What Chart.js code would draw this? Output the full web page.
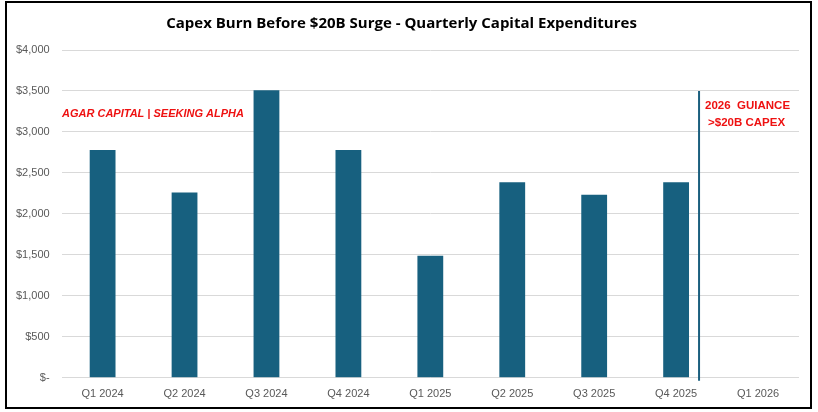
<!DOCTYPE html>
<html>
<head>
<meta charset="utf-8">
<script src="https://cdn.jsdelivr.net/npm/chart.js@4"></script>
<style>
  body { margin: 0; background: #fff; }
  #frame { position: absolute; left: 5px; top: 1px; width: 803px; height: 404px; border: 2px solid #000; }
  #wrap { position: absolute; left: 0; top: 0; width: 818px; height: 412px; }
</style>
</head>
<body>
<div id="frame"></div>
<div id="wrap"><canvas id="capexChart"></canvas></div>
<script>
// quarterly capex, $M
const quarters = ['Q1 2024', 'Q2 2024', 'Q3 2024', 'Q4 2024', 'Q1 2025', 'Q2 2025', 'Q3 2025', 'Q4 2025', 'Q1 2026'];
const capex = [2780, 2260, 3510, 2780, 1490, 2385, 2235, 2385, null];
const yTicks = [0, 500, 1000, 1500, 2000, 2500, 3000, 3500, 4000];

// guidance marker: sits just after Q4 2025, tops out at $3,500
const guidanceAt = 7.28;
const guidanceTop = 3500;

const fmtMoney = v => v === 0 ? '$-' : '$' + v.toLocaleString('en-US');

const overlay = {
  id: 'overlay',
  afterDatasetsDraw(chart) {
    const { ctx, scales: { x, y } } = chart;
    ctx.save();
    // guidance divider
    const gx = x.getPixelForValue(guidanceAt);
    ctx.strokeStyle = '#1b5f7e';
    ctx.lineWidth = 2;
    ctx.beginPath();
    ctx.moveTo(gx, y.getPixelForValue(guidanceTop));
    ctx.lineTo(gx, y.getPixelForValue(0) + 3);
    ctx.stroke();

    ctx.fillStyle = '#ee1111';
    ctx.textBaseline = 'middle';
    ctx.font = 'bold 11.5px "Liberation Sans", Arial, sans-serif';
    ctx.fillText('2026  GUIANCE', gx + 6, 106);
    ctx.fillText('>$20B CAPEX', gx + 9, 123);

    ctx.font = 'italic bold 11px "Liberation Sans", Arial, sans-serif';
    ctx.fillText('AGAR CAPITAL | SEEKING ALPHA', 62, 114);
    ctx.restore();
  }
};

new Chart(document.getElementById('capexChart'), {
  type: 'bar',
  data: {
    labels: quarters,
    datasets: [{
      data: capex,
      backgroundColor: '#17607f',
      borderWidth: 0,
      categoryPercentage: 1,
      barPercentage: 0.315
    }]
  },
  options: {
    responsive: true,
    maintainAspectRatio: false,
    animation: false,
    layout: { padding: { left: 4, right: 19, top: 0, bottom: 9 } },
    plugins: {
      legend: { display: false },
      tooltip: { enabled: false },
      title: {
        display: true,
        text: 'Capex Burn Before $20B Surge - Quarterly Capital Expenditures',
        color: '#000',
        font: { family: '"Open Sans", sans-serif', size: 15, weight: 'bold' },
        padding: { top: 15, bottom: 17 }
      }
    },
    scales: {
      x: {
        grid: { display: false },
        border: { display: false },
        ticks: { color: '#595959', font: { family: '"Liberation Sans", Arial, sans-serif', size: 11 }, padding: 2 }
      },
      y: {
        min: 0,
        max: 4000,
        afterBuildTicks: axis => { axis.ticks = yTicks.map(v => ({ value: v })); },
        grid: { color: '#d9d9d9', lineWidth: 1, drawTicks: false },
        border: { display: false },
        ticks: {
          color: '#595959',
          font: { family: '"Liberation Sans", Arial, sans-serif', size: 11 },
          padding: 12,
          callback: v => fmtMoney(v)
        }
      }
    }
  },
  plugins: [overlay]
});
</script>
</body>
</html>
